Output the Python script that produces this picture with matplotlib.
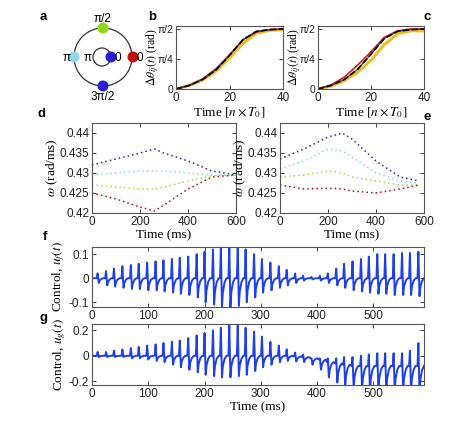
import numpy as np
import matplotlib
matplotlib.use("Agg")
import matplotlib.pyplot as plt
from matplotlib.patches import Circle

plt.rcParams['font.family'] = ['Liberation Sans', 'DejaVu Sans']
plt.rcParams['mathtext.fontset'] = 'stix'
plt.rcParams['font.size'] = 8
plt.rcParams['axes.unicode_minus'] = False

# ---------------- data ----------------
t_bc = [0, 5, 10, 15, 20, 25, 30, 35, 40]
b_black = [0, 0.06, 0.16, 0.32, 0.56, 0.82, 0.96, 0.99, 1.0]
b_red = [0, 0.06, 0.17, 0.34, 0.57, 0.82, 0.95, 0.99, 1.0]
b_yellow = [0, 0.06, 0.15, 0.30, 0.52, 0.76, 0.93, 0.98, 0.99]
c_black = [0, 0.06, 0.16, 0.33, 0.58, 0.84, 0.96, 0.99, 1.0]
c_red = [0, 0.07, 0.20, 0.40, 0.62, 0.86, 0.97, 1.0, 1.0]
c_yellow = [0, 0.05, 0.14, 0.28, 0.48, 0.74, 0.92, 0.97, 0.97]

t_d = [0, 100, 200, 260, 300, 400, 500, 600]
d_blue = [0.432, 0.4335, 0.435, 0.436, 0.435, 0.433, 0.4305, 0.4295]
d_cyan = [0.4295, 0.430, 0.4305, 0.4305, 0.4305, 0.430, 0.4295, 0.4295]
d_green = [0.427, 0.4265, 0.426, 0.426, 0.4265, 0.428, 0.4293, 0.4295]
d_red = [0.425, 0.4235, 0.4215, 0.4205, 0.422, 0.426, 0.429, 0.4295]
t_e = [0, 100, 200, 260, 300, 400, 500, 580]
e_blue = [0.4335, 0.436, 0.439, 0.440, 0.4385, 0.433, 0.429, 0.428]
e_cyan = [0.431, 0.433, 0.436, 0.4355, 0.434, 0.430, 0.428, 0.4275]
e_green = [0.429, 0.4295, 0.4305, 0.430, 0.429, 0.428, 0.427, 0.427]
e_red = [0.427, 0.426, 0.4262, 0.426, 0.4255, 0.425, 0.426, 0.427]

pulse_t = [10, 25, 39, 54, 69, 83, 98, 113, 127, 142, 156, 171, 186, 200, 215, 229, 244, 259, 273, 288,
           302, 317, 332, 346, 361, 375, 390, 405, 419, 434, 448, 463, 478, 492, 507, 521, 536, 551, 565, 580]
f_peak = [0.02, 0.03, 0.04, 0.05, 0.055, 0.06, 0.065, 0.07, 0.075, 0.08, 0.085, 0.09, 0.1, 0.11, 0.12, 0.125, 0.13, 0.13, 0.12, 0.1,
          0.08, 0.065, 0.05, 0.035, 0.02, 0.01, 0.005, 0.01, 0.02, 0.04, 0.06, 0.07, 0.08, 0.09, 0.1, 0.1, 0.1, 0.105, 0.105, 0.11]
f_trough = [-0.02, -0.03, -0.035, -0.04, -0.045, -0.045, -0.05, -0.05, -0.055, -0.06, -0.065, -0.07, -0.08, -0.1, -0.11, -0.12, -0.12, -0.115, -0.1, -0.08,
            -0.06, -0.05, -0.04, -0.03, -0.02, -0.01, -0.005, -0.01, -0.02, -0.03, -0.04, -0.05, -0.055, -0.06, -0.065, -0.065, -0.07, -0.07, -0.07, -0.075]
g_peak = [0.03, 0.03, 0.04, 0.05, 0.06, 0.07, 0.08, 0.09, 0.1, 0.11, 0.12, 0.14, 0.16, 0.18, 0.2, 0.22, 0.24, 0.24, 0.22, 0.19,
          0.15, 0.11, 0.08, 0.05, 0.03, 0.02, 0.0, 0.01, 0.03, 0.04, 0.06, 0.07, 0.08, 0.09, 0.1, 0.1, 0.1, 0.1, 0.12, 0.18]
g_trough = [-0.01, -0.01, -0.01, -0.01, -0.02, -0.02, -0.03, -0.04, -0.05, -0.07, -0.09, -0.11, -0.13, -0.15, -0.16, -0.17, -0.17, -0.16, -0.15, -0.12,
            -0.09, -0.07, -0.05, -0.04, -0.04, -0.04, -0.05, -0.08, -0.12, -0.15, -0.17, -0.18, -0.19, -0.2, -0.2, -0.2, -0.2, -0.2, -0.2, -0.22]
g_base = [0, 0, 0, 0, 0, 0, 0, 0, 0, 0, 0, 0, 0, 0, 0, 0, 0, 0, 0, 0,
          0, 0, 0, 0, -0.005, -0.01, -0.02, -0.03, -0.05, -0.06, -0.07, -0.08, -0.08, -0.08, -0.08, -0.08, -0.08, -0.08, -0.08, -0.08]

W, H = 474, 423
fig = plt.figure(figsize=(W / 100, H / 100), dpi=100)

def ax_px(x0, y0, x1, y1):
    return fig.add_axes([x0 / W, 1 - y1 / H, (x1 - x0) / W, (y1 - y0) / H])

def style(ax, ls=8.5):
    for s in ax.spines.values():
        s.set_color('#555555'); s.set_linewidth(0.8)
    ax.tick_params(direction='in', length=3, width=0.6, colors='#222222', top=True, right=True, labelsize=ls, pad=2)

serif = dict(family=['Liberation Serif', 'DejaVu Serif'], fontsize=9.5)

# ---- a ----
aa = ax_px(60, 12, 150, 100)
aa.set_xlim(60, 150); aa.set_ylim(100, 12); aa.axis('off')
aa.add_patch(Circle((103, 57), 29, fill=False, lw=0.9, color='#333333'))
aa.add_patch(Circle((102, 57), 9, fill=False, lw=0.9, color='#333333'))
for (x, y, c) in [(103, 28, '#8fd61e'), (74, 57, '#8fd8e6'), (133, 57, '#c0100c'), (103, 86, '#2a1ed0'), (111, 57, '#2a1ed0')]:
    aa.add_patch(Circle((x, y), 4.8, color=c, zorder=2))
for (x, y, s) in [(103, 19, 'π/2'), (67, 58, 'π'), (140, 58, '0'), (118, 58, '0'), (88, 58, 'π'), (103, 97, '3π/2')]:
    fig.text(x / W, 1 - y / H, s, ha='center', va='center', fontsize=8.5, zorder=10)

# ---- b, c ----
for (x0, x1, blk, red, yel) in [(176, 283, b_black, b_red, b_yellow), (318, 424, c_black, c_red, c_yellow)]:
    ax = ax_px(x0, 26, x1, 89)
    style(ax, 7.5)
    h = np.pi / 2
    ax.plot(t_bc, np.array(yel) * h, color='#e8c020', lw=2.2)
    ax.plot(t_bc, np.array(red) * h, color='#d02010', lw=1.2)
    ax.plot(t_bc, np.array(blk) * h, color='#2030c0', lw=0.8)
    ax.plot(t_bc, np.array(blk) * h, color='black', lw=1.2, ls='--')
    ax.set_xlim(0, 40); ax.set_ylim(0, 1.65)
    ax.set_xticks([0, 20, 40])
    ax.tick_params(axis='x', labelsize=8.5)
    ax.set_yticks([0, np.pi / 4, np.pi / 2]); ax.set_yticklabels(['0', 'π/4', 'π/2'])
    ax.set_xlabel(r'Time $[n\times T_0]$', labelpad=1, **serif)
    fig.text((x0 - 23.5) / W, 1 - 57 / H, r'$\Delta\theta_{ij}(t)$ (rad)', rotation=90, ha='center', va='center',
             fontsize=8.5, family=serif['family'])

# ---- d, e ----
cols = ['#2a1ed0', '#8fd8e6', '#a8d838', '#b01010']
for (x0, x1, tt, series) in [(92, 236, t_d, [d_blue, d_cyan, d_green, d_red]), (280, 424, t_e, [e_blue, e_cyan, e_green, e_red])]:
    ax = ax_px(x0, 123, x1, 213)
    style(ax)
    for s, c in zip(series, cols):
        ax.plot(tt, s, color=c, lw=1.1, ls=(0, (1, 2)))
    ax.set_xlim(0, 600); ax.set_ylim(0.42, 0.4425)
    ax.set_xticks([0, 200, 400, 600])
    ax.set_yticks([0.42, 0.425, 0.43, 0.435, 0.44])
    ax.set_yticklabels(['0.42', '0.425', '0.43', '0.435', '0.44'])
    ax.set_xlabel('Time (ms)', labelpad=1, **serif)
    ax.set_ylabel(r'$\omega$ (rad/ms)', labelpad=0, **serif)

def pulses(peaks, troughs, base):
    xs, ys = [0], [base[0]]
    for t0, p, q, b in zip(pulse_t, peaks, troughs, base):
        xs += [t0 - 1.5, t0, t0 + 2, t0 + 3.5, t0 + 6.5, t0 + 10]
        ys += [b, b + p, b + q, b + 0.5 * q, b + 0.15 * q, b]
    xs.append(590); ys.append(base[-1])
    return xs, ys

# ---- f ----
ax = ax_px(92, 247, 424, 307)
style(ax)
x, y = pulses(f_peak, f_trough, [0] * len(pulse_t))
ax.plot(x, y, color='#1f3fe8', lw=1.4)
ax.set_xlim(0, 590); ax.set_ylim(-0.12, 0.13)
ax.set_xticks([0, 100, 200, 300, 400, 500]); ax.set_yticks([-0.1, 0, 0.1])
ax.set_yticklabels(['-0.1', '0', '0.1'])
ax.set_ylabel(r'Control, $u_f(t)$', labelpad=1, **serif)

# ---- g ----
ax = ax_px(92, 324, 424, 385)
style(ax)
x, y = pulses(g_peak, g_trough, g_base)
ax.plot(x, y, color='#1f3fe8', lw=1.4)
ax.set_xlim(0, 590); ax.set_ylim(-0.23, 0.25)
ax.set_xticks([0, 100, 200, 300, 400, 500]); ax.set_yticks([-0.2, 0, 0.2])
ax.set_yticklabels(['-0.2', '0', '0.2'])
ax.set_xlabel('Time (ms)', labelpad=1, **serif)
ax.set_ylabel(r'Control, $u_g(t)$', labelpad=1, **serif)

for (x, y, s) in [(43, 17, 'a'), (152, 17, 'b'), (427, 17, 'c'), (42, 114, 'd'), (427, 117, 'e'), (45, 237, 'f'), (43, 318, 'g')]:
    fig.text(x / W, 1 - y / H, s, fontsize=9.5, fontweight='bold', ha='center', va='center')

fig.savefig('out.png', dpi=100)
